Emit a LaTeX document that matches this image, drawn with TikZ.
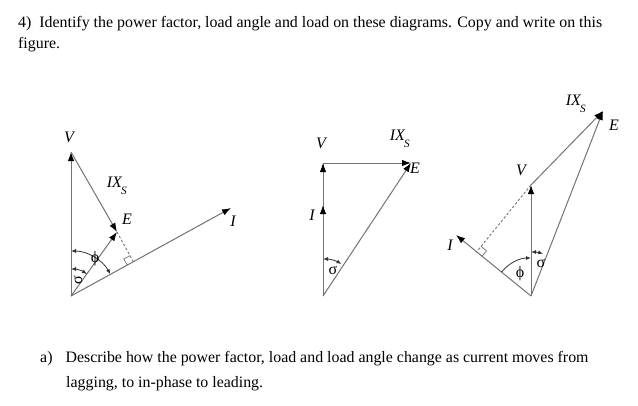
\documentclass[tikz,border=0pt]{standalone}
\usepackage{fontspec}
\setmainfont{Liberation Serif}
\usetikzlibrary{arrows.meta,calc}
\begin{document}
\begin{tikzpicture}[x=1pt,y=-1pt,
  vec/.style={draw=gray!90!black,line width=1pt,-{Latex[length=9pt,width=6.5pt,color=black]}},
  ln/.style={draw=gray!90!black,line width=1pt},
  dsh/.style={draw=gray!90!black,line width=0.9pt,dash pattern=on 2.5pt off 2pt},
  arc2/.style={draw=black!80,line width=0.8pt,{Latex[length=5pt,width=4pt]}-{Latex[length=5pt,width=4pt]}},
  arc1/.style={draw=black!80,line width=0.8pt,-{Latex[length=5pt,width=4pt]}},
  lab/.style={font=\itshape\fontsize{16}{16}\selectfont,inner sep=0pt},
  gr/.style={font=\fontsize{16}{16}\selectfont,inner sep=0pt},
  txt/.style={font=\fontsize{15.9}{18}\selectfont,inner sep=0pt,anchor=base west}]
\useasboundingbox[fill=white] (0,0) rectangle (638,405);
\node[txt] (t1) at (18,27) {4)\ \ Identify the power factor, load angle and load on these diagrams. Copy and write on this};
\node[txt] (t2) at (18,48) {figure.};
\node[txt] (t3) at (40,362) {a)\hspace{13pt}Describe how the power factor, load and load angle change as current moves from};
\node[txt] (t4) at (66,387) {lagging, to in-phase to leading.};
% diagram 1
\coordinate (O1) at (71,296);
\coordinate (V1) at (71,152);
\coordinate (E1) at (117,232);
\coordinate (I1) at (231,208);
\coordinate (F1) at ($(O1)!(E1)!(I1)$);
\draw[vec] (O1) -- (V1);
\draw[vec] (V1) -- (E1);
\draw[vec] (O1) -- (E1);
\draw[vec] (O1) -- (I1);
\draw[dsh] (E1) -- (F1);
\draw[ln,line width=0.7pt] ($(F1)!7pt!(E1)$) -- ++($(F1)!7pt!(O1)-(F1)$) -- ($(F1)!7pt!(O1)$);
\draw[arc2] ($(O1)+(-90:45)$) arc[start angle=-90,end angle=-29,radius=45];
\draw[arc2] ($(O1)+(-90:27)$) arc[start angle=-90,end angle=-54,radius=27];
\node[lab] (v1) at (69,137) {V};
\node[lab] (ix1) at (117,186) {IX\textsubscript{\kern-1pt\raisebox{-4pt}{S}}};
\node[lab] (e1) at (127,219) {E};
\node[lab] (i1) at (233,221) {I};
\node[gr] (p1) at (95,259) {ϕ};
\node[gr,rotate=90] (s1) at (78,280) {σ};
% diagram 2
\coordinate (O2) at (323,296);
\coordinate (V2) at (323,163);
\coordinate (E2) at (411,163);
\coordinate (I2) at (323,205);
\draw[ln] (O2) -- (V2);
\draw[vec] (O2) -- (I2);
\draw[vec] ($(I2)+(0,1)$) -- (V2);
\draw[vec] (V2) -- (E2);
\draw[vec] (O2) -- (E2);
\draw[arc2] ($(O2)+(-90:37)$) arc[start angle=-90,end angle=-60,radius=37];
\node[lab] (v2) at (321,143) {V};
\node[lab] (ix2) at (400,139) {IX\textsubscript{\kern-1pt\raisebox{-4pt}{S}}};
\node[lab] (e2) at (415,168) {E};
\node[lab] (i2) at (312,215) {I};
\node[gr] (s2) at (333,270) {σ};
% diagram 3
\coordinate (O3) at (531,296);
\coordinate (V3) at (531,185);
\coordinate (E3) at (603,111);
\coordinate (I3) at (456,235);
\coordinate (F3) at ($(O3)!(V3)!(I3)$);
\draw[vec] (O3) -- (V3);
\draw[vec] (V3) -- (E3);
\draw[vec] (O3) -- (E3);
\draw[vec] (O3) -- (I3);
\draw[dsh] (V3) -- (F3);
\draw[ln,line width=0.7pt] ($(F3)!7pt!(V3)$) -- ++($(F3)!7pt!(O3)-(F3)$) -- ($(F3)!7pt!(O3)$);
\draw[arc1] ($(O3)+(-141:38)$) arc[start angle=-141,end angle=-90,radius=38];
\draw[arc2] ($(O3)+(-90:44)$) arc[start angle=-90,end angle=-74,radius=44];
\node[lab] (v3) at (521,170) {V};
\node[lab] (ix3) at (576,104) {IX\textsubscript{\kern-1pt\raisebox{-4pt}{S}}};
\node[lab] (e3) at (614,125) {E};
\node[lab] (i3) at (450,245) {I};
\node[gr] (p3) at (520,274) {ϕ};
\node[gr] (s3) at (541,263) {σ};
\end{tikzpicture}
\end{document}
